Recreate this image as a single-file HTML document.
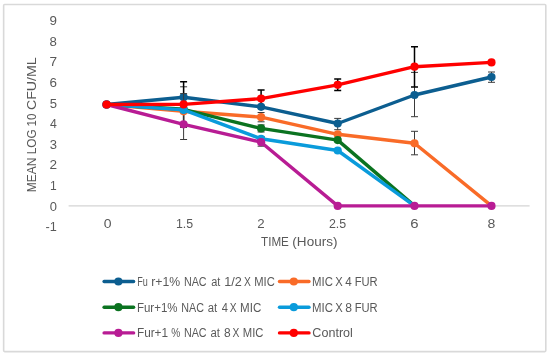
<!DOCTYPE html>
<html><head><meta charset="utf-8"><title>chart</title>
<style>
html,body{margin:0;padding:0;background:#fff;}
body{width:550px;height:357px;overflow:hidden;font-family:"Liberation Sans",sans-serif;}
svg{display:block}
text{font-family:"Liberation Sans",sans-serif;fill:#595959}
</style></head><body>
<svg width="550" height="357" viewBox="0 0 550 357">
<rect x="0" y="0" width="550" height="357" fill="#fff"/>
<rect x="3.65" y="4.55" width="542.15" height="347.05" rx="1" fill="#fff" stroke="#D9D9D9" stroke-width="1.6"/>
<line x1="68.6" y1="205.9" x2="529.6" y2="205.9" stroke="#D4D4D4" stroke-width="1.2"/>
<text y="231.3" font-size="12"><tspan x="45.44" textLength="11.28" lengthAdjust="spacingAndGlyphs">-1</tspan></text>
<text y="210.7" font-size="12"><tspan x="49.69" textLength="7.21" lengthAdjust="spacingAndGlyphs">0</tspan></text>
<text y="190.0" font-size="12"><tspan x="49.98" textLength="6.71" lengthAdjust="spacingAndGlyphs">1</tspan></text>
<text y="169.4" font-size="12"><tspan x="49.52" textLength="7.57" lengthAdjust="spacingAndGlyphs">2</tspan></text>
<text y="148.8" font-size="12"><tspan x="49.70" textLength="7.27" lengthAdjust="spacingAndGlyphs">3</tspan></text>
<text y="128.2" font-size="12"><tspan x="49.92" textLength="6.84" lengthAdjust="spacingAndGlyphs">4</tspan></text>
<text y="107.6" font-size="12"><tspan x="49.68" textLength="7.27" lengthAdjust="spacingAndGlyphs">5</tspan></text>
<text y="87.0" font-size="12"><tspan x="49.52" textLength="7.47" lengthAdjust="spacingAndGlyphs">6</tspan></text>
<text y="66.4" font-size="12"><tspan x="49.50" textLength="7.59" lengthAdjust="spacingAndGlyphs">7</tspan></text>
<text y="45.8" font-size="12"><tspan x="49.63" textLength="7.35" lengthAdjust="spacingAndGlyphs">8</tspan></text>
<text y="25.2" font-size="12"><tspan x="49.57" textLength="7.46" lengthAdjust="spacingAndGlyphs">9</tspan></text>
<text y="227.8" font-size="12"><tspan x="103.85" textLength="7.79" lengthAdjust="spacingAndGlyphs">0</tspan></text>
<text y="227.8" font-size="12"><tspan x="175.96" textLength="17.16" lengthAdjust="spacingAndGlyphs">1.5</tspan></text>
<text y="227.8" font-size="12"><tspan x="257.28" textLength="7.39" lengthAdjust="spacingAndGlyphs">2</tspan></text>
<text y="227.8" font-size="12"><tspan x="328.98" textLength="17.24" lengthAdjust="spacingAndGlyphs">2.5</tspan></text>
<text y="227.8" font-size="12"><tspan x="410.34" textLength="8.32" lengthAdjust="spacingAndGlyphs">6</tspan></text>
<text y="227.8" font-size="12"><tspan x="487.49" textLength="7.82" lengthAdjust="spacingAndGlyphs">8</tspan></text>
<text y="246.2" font-size="13.3"><tspan x="261.04" textLength="27.86" lengthAdjust="spacingAndGlyphs">TIME</tspan> <tspan x="292.36" textLength="45.08" lengthAdjust="spacingAndGlyphs">(Hours)</tspan></text>
<text transform="translate(36.4,0) rotate(-90)" y="0" font-size="13.3"><tspan x="-192.18" textLength="34.56" lengthAdjust="spacingAndGlyphs">MEAN</tspan> <tspan x="-154.37" textLength="24.95" lengthAdjust="spacingAndGlyphs">LOG</tspan> <tspan x="-126.38" textLength="12.83" lengthAdjust="spacingAndGlyphs">10</tspan> <tspan x="-110.02" textLength="52.69" lengthAdjust="spacingAndGlyphs">CFU/ML</tspan></text>
<g stroke="#3a3a3a" stroke-width="1.0" fill="none">
<path d="M183.6 86.8 V107.6 M180.1 86.8 H187.1 M180.1 107.6 H187.1"/>
<path d="M183.6 109.1 V139.5 M180.1 109.1 H187.1 M180.1 139.5 H187.1"/>
<path d="M261.1 112.5 V121.8 M257.6 112.5 H264.6 M257.6 121.8 H264.6"/>
<path d="M261.1 124.9 V132 M257.6 124.9 H264.6 M257.6 132 H264.6"/>
<path d="M261.1 136.6 V141 M257.6 136.6 H264.6 M257.6 141 H264.6"/>
<path d="M261.1 139 V146.2 M257.6 139 H264.6 M257.6 146.2 H264.6"/>
<path d="M337.7 118.4 V129.7 M334.2 118.4 H341.2 M334.2 129.7 H341.2"/>
<path d="M414.5 72.4 V116.7 M411.0 72.4 H418.0 M411.0 116.7 H418.0"/>
<path d="M414.5 131.3 V154.8 M411.0 131.3 H418.0 M411.0 154.8 H418.0"/>
<path d="M491.5 72.0 V82.3 M488.0 72.0 H495.0 M488.0 82.3 H495.0"/>
</g>
<g stroke="#000" stroke-width="1.5" fill="none">
<path d="M183.6 81.85 V127 M180.1 81.85 H187.1 M180.1 127 H187.1"/>
<path d="M261.1 89.9 V107.3 M257.6 89.9 H264.6 M257.6 107.3 H264.6"/>
<path d="M337.7 79.0 V90.4 M334.2 79.0 H341.2 M334.2 90.4 H341.2"/>
<path d="M414.5 46.7 V87.1 M411.0 46.7 H418.0 M411.0 87.1 H418.0"/>
</g>
<polyline points="106.6,104.5 183.6,97.2 261.1,106.8 337.7,123.5 414.5,95.0 491.5,77.0" fill="none" stroke="#0C5E90" stroke-width="3.4" stroke-linejoin="round" stroke-linecap="round"/>
<circle cx="106.6" cy="104.5" r="4.1" fill="#0C5E90"/>
<circle cx="183.6" cy="97.2" r="4.1" fill="#0C5E90"/>
<circle cx="261.1" cy="106.8" r="4.1" fill="#0C5E90"/>
<circle cx="337.7" cy="123.5" r="4.1" fill="#0C5E90"/>
<circle cx="414.5" cy="95.0" r="4.1" fill="#0C5E90"/>
<circle cx="491.5" cy="77.0" r="4.1" fill="#0C5E90"/>
<g stroke="#3a3a3a" stroke-width="1.0" fill="none">
<path d="M183.6 93.6 V126.2 M180.1 93.6 H187.1 M180.1 126.2 H187.1"/>
</g>
<polyline points="106.6,104.5 183.6,111.3 261.1,117.2 337.7,134.3 414.5,143.3 491.5,205.9" fill="none" stroke="#F96B28" stroke-width="3.4" stroke-linejoin="round" stroke-linecap="round"/>
<circle cx="106.6" cy="104.5" r="4.1" fill="#F96B28"/>
<circle cx="183.6" cy="111.3" r="4.1" fill="#F96B28"/>
<circle cx="261.1" cy="117.2" r="4.1" fill="#F96B28"/>
<circle cx="337.7" cy="134.3" r="4.1" fill="#F96B28"/>
<circle cx="414.5" cy="143.3" r="4.1" fill="#F96B28"/>
<polyline points="106.6,104.5 183.6,109.3 261.1,128.4 337.7,140.1 414.5,205.9" fill="none" stroke="#0B7320" stroke-width="3.4" stroke-linejoin="round" stroke-linecap="round"/>
<circle cx="106.6" cy="104.5" r="4.1" fill="#0B7320"/>
<circle cx="183.6" cy="109.3" r="4.1" fill="#0B7320"/>
<circle cx="261.1" cy="128.4" r="4.1" fill="#0B7320"/>
<circle cx="337.7" cy="140.1" r="4.1" fill="#0B7320"/>
<polyline points="106.6,104.5 183.6,109.9 261.1,138.8 337.7,150.5 414.5,205.9" fill="none" stroke="#0A9BDB" stroke-width="3.4" stroke-linejoin="round" stroke-linecap="round"/>
<circle cx="106.6" cy="104.5" r="4.1" fill="#0A9BDB"/>
<circle cx="183.6" cy="109.9" r="4.1" fill="#0A9BDB"/>
<circle cx="261.1" cy="138.8" r="4.1" fill="#0A9BDB"/>
<circle cx="337.7" cy="150.5" r="4.1" fill="#0A9BDB"/>
<polyline points="106.6,104.5 183.6,124.3 261.1,142.2 337.7,205.9 414.5,205.9 491.5,205.9" fill="none" stroke="#B81C94" stroke-width="3.4" stroke-linejoin="round" stroke-linecap="round"/>
<circle cx="106.6" cy="104.5" r="4.1" fill="#B81C94"/>
<circle cx="183.6" cy="124.3" r="4.1" fill="#B81C94"/>
<circle cx="261.1" cy="142.2" r="4.1" fill="#B81C94"/>
<circle cx="337.7" cy="205.9" r="4.1" fill="#B81C94"/>
<circle cx="414.5" cy="205.9" r="4.1" fill="#B81C94"/>
<circle cx="491.5" cy="205.9" r="4.1" fill="#B81C94"/>
<polyline points="106.6,104.5 183.6,104.4 261.1,98.6 337.7,84.8 414.5,66.7 491.5,62.4" fill="none" stroke="#FF0000" stroke-width="3.4" stroke-linejoin="round" stroke-linecap="round"/>
<circle cx="106.6" cy="104.5" r="4.1" fill="#FF0000"/>
<circle cx="183.6" cy="104.4" r="4.1" fill="#FF0000"/>
<circle cx="261.1" cy="98.6" r="4.1" fill="#FF0000"/>
<circle cx="337.7" cy="84.8" r="4.1" fill="#FF0000"/>
<circle cx="414.5" cy="66.7" r="4.1" fill="#FF0000"/>
<circle cx="491.5" cy="62.4" r="4.1" fill="#FF0000"/>
<line x1="104.10000000000001" y1="281.5" x2="133.6" y2="281.5" stroke="#0C5E90" stroke-width="3.4" stroke-linecap="round"/>
<circle cx="118.4" cy="281.5" r="4.1" fill="#0C5E90"/>
<text y="285.8" font-size="12"><tspan x="137.16" textLength="10.54" lengthAdjust="spacingAndGlyphs">Fu</tspan> <tspan x="151.29" textLength="28.95" lengthAdjust="spacingAndGlyphs">r+1%</tspan> <tspan x="183.92" textLength="22.69" lengthAdjust="spacingAndGlyphs">NAC</tspan> <tspan x="211.13" textLength="9.15" lengthAdjust="spacingAndGlyphs">at</tspan> <tspan x="224.24" textLength="17.60" lengthAdjust="spacingAndGlyphs">1/2</tspan> <tspan x="244.07" textLength="6.85" lengthAdjust="spacingAndGlyphs">X</tspan> <tspan x="254.28" textLength="20.55" lengthAdjust="spacingAndGlyphs">MIC</tspan></text>
<line x1="279.5" y1="281.5" x2="309.0" y2="281.5" stroke="#F96B28" stroke-width="3.4" stroke-linecap="round"/>
<circle cx="293.8" cy="281.5" r="4.1" fill="#F96B28"/>
<text y="285.8" font-size="12"><tspan x="312.07" textLength="20.87" lengthAdjust="spacingAndGlyphs">MIC</tspan> <tspan x="335.35" textLength="7.49" lengthAdjust="spacingAndGlyphs">X</tspan> <tspan x="345.23" textLength="6.51" lengthAdjust="spacingAndGlyphs">4</tspan> <tspan x="354.68" textLength="23.04" lengthAdjust="spacingAndGlyphs">FUR</tspan></text>
<line x1="104.10000000000001" y1="307.2" x2="133.6" y2="307.2" stroke="#0B7320" stroke-width="3.4" stroke-linecap="round"/>
<circle cx="118.4" cy="307.2" r="4.1" fill="#0B7320"/>
<text y="311.5" font-size="12"><tspan x="136.96" textLength="40.55" lengthAdjust="spacingAndGlyphs">Fur+1%</tspan> <tspan x="181.22" textLength="22.69" lengthAdjust="spacingAndGlyphs">NAC</tspan> <tspan x="207.82" textLength="9.47" lengthAdjust="spacingAndGlyphs">at</tspan> <tspan x="221.64" textLength="6.18" lengthAdjust="spacingAndGlyphs">4</tspan> <tspan x="229.87" textLength="6.85" lengthAdjust="spacingAndGlyphs">X</tspan> <tspan x="240.05" textLength="21.19" lengthAdjust="spacingAndGlyphs">MIC</tspan></text>
<line x1="279.5" y1="307.2" x2="309.0" y2="307.2" stroke="#0A9BDB" stroke-width="3.4" stroke-linecap="round"/>
<circle cx="293.8" cy="307.2" r="4.1" fill="#0A9BDB"/>
<text y="311.5" font-size="12"><tspan x="312.07" textLength="20.87" lengthAdjust="spacingAndGlyphs">MIC</tspan> <tspan x="335.35" textLength="7.49" lengthAdjust="spacingAndGlyphs">X</tspan> <tspan x="345.17" textLength="6.76" lengthAdjust="spacingAndGlyphs">8</tspan> <tspan x="354.68" textLength="23.04" lengthAdjust="spacingAndGlyphs">FUR</tspan></text>
<line x1="104.10000000000001" y1="332.9" x2="133.6" y2="332.9" stroke="#B81C94" stroke-width="3.4" stroke-linecap="round"/>
<circle cx="118.4" cy="332.9" r="4.1" fill="#B81C94"/>
<text y="337.2" font-size="12"><tspan x="136.93" textLength="31.14" lengthAdjust="spacingAndGlyphs">Fur+1</tspan> <tspan x="171.14" textLength="9.02" lengthAdjust="spacingAndGlyphs">%</tspan> <tspan x="183.92" textLength="22.69" lengthAdjust="spacingAndGlyphs">NAC</tspan> <tspan x="210.52" textLength="9.47" lengthAdjust="spacingAndGlyphs">at</tspan> <tspan x="224.08" textLength="6.64" lengthAdjust="spacingAndGlyphs">8</tspan> <tspan x="232.57" textLength="6.85" lengthAdjust="spacingAndGlyphs">X</tspan> <tspan x="242.78" textLength="20.65" lengthAdjust="spacingAndGlyphs">MIC</tspan></text>
<line x1="279.5" y1="332.9" x2="309.0" y2="332.9" stroke="#FF0000" stroke-width="3.4" stroke-linecap="round"/>
<circle cx="293.8" cy="332.9" r="4.1" fill="#FF0000"/>
<text y="337.2" font-size="12"><tspan x="312.36" textLength="40.48" lengthAdjust="spacingAndGlyphs">Control</tspan></text>
</svg>
</body></html>
